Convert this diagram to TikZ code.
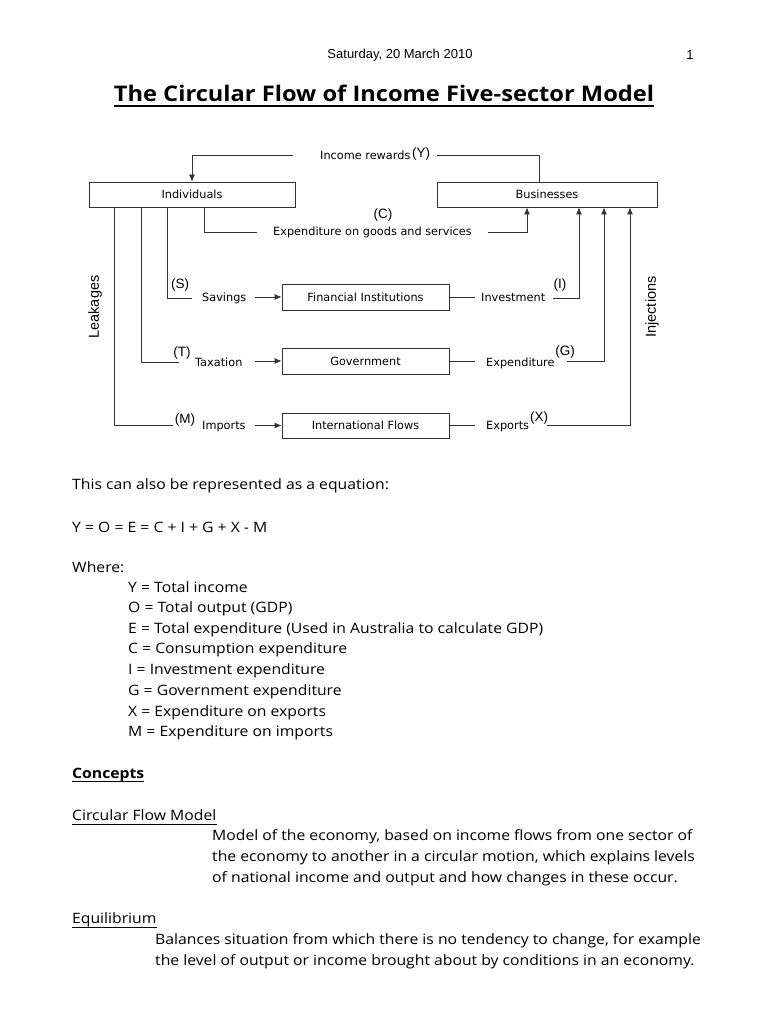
\documentclass[tikz,border=0pt]{standalone}
\usepackage{fontspec}
\setmainfont{Open Sans}[FakeStretch=1.1]
\newfontfamily\diagfont{DejaVu Sans}
\newfontfamily\arialfont{Liberation Sans}
\usetikzlibrary{arrows.meta,calc}
\begin{document}
\begin{tikzpicture}[x=1pt,y=-1pt,
  box/.style={draw=black!80, line width=0.8pt, minimum height=25pt, inner sep=0pt, font=\diagfont\fontsize{11.3}{13}\selectfont},
  dl/.style={inner sep=0pt, anchor=base west, font=\diagfont\fontsize{11.3}{13}\selectfont},
  pl/.style={inner sep=0pt, font=\arialfont\fontsize{13.5}{15}\selectfont},
  conn/.style={draw=black!80, line width=0.8pt},
  arr/.style={conn, -{Latex[length=7pt,width=6pt]}},
  body/.style={anchor=base west, inner sep=0pt, font=\fontsize{14.3}{17}\selectfont},
  uline/.style={line width=0.8pt}
]
\useasboundingbox (0,0) rectangle (768,1024);
\fill[white] (0,0) rectangle (768,1024);

% header
\node[inner sep=0pt, font=\arialfont\fontsize{13}{15}\selectfont] (date) at (400,55) {Saturday, 20 March 2010};
\node[inner sep=0pt, font=\arialfont\fontsize{13}{15}\selectfont] (page) at (690,55) {1};
\node[anchor=base, inner sep=0pt, font=\bfseries\fontsize{21.5}{25}\selectfont] (title) at (384,102) {The Circular Flow of Income Five-sector Model};
\draw[line width=1.4pt] ($(title.base west)+(0,4)$) -- ($(title.base east)+(0,4)$);

% diagram boxes
\node[box, minimum width=206pt] (ind) at (192,194.5) {Individuals};
\node[box, minimum width=220pt] (bus) at (547,194.5) {Businesses};
\node[box, minimum width=167pt, minimum height=26pt] (fin) at (365.5,297) {Financial Institutions};
\node[box, minimum width=167pt, minimum height=26pt] (gov) at (365.5,361) {Government};
\node[box, minimum width=167pt, minimum height=25pt] (intl) at (365.5,425.5) {International Flows};

% labels
\node[dl] (inc) at (320,160) {Income rewards};
\node[pl, anchor=base west] (Y) at (412,157.5) {(Y)};
\node[pl] (C) at (383,215) {(C)};
\node[dl] (exp) at (273,236) {Expenditure on goods and services};
\node[dl] (sav) at (202,301.5) {Savings};
\node[dl] (tax) at (195,366) {Taxation};
\node[dl] (imp) at (202,429.5) {Imports};
\node[dl] (inv) at (481,301.5) {Investment};
\node[dl] (gexp) at (486,366) {Expenditure};
\node[dl] (expo) at (486,429.5) {Exports};
\node[pl] (S) at (180,285) {(S)};
\node[pl] (T) at (182,353) {(T)};
\node[pl] (M) at (185,420) {(M)};
\node[pl] (I) at (560,285) {(I)};
\node[pl] (G) at (565,352) {(G)};
\node[pl] (X) at (539,418) {(X)};
\node[pl, rotate=90, font=\arialfont\fontsize{14.5}{16}\selectfont] (leak) at (95,307) {Leakages};
\node[pl, rotate=90, font=\arialfont\fontsize{14.5}{16}\selectfont] (inj) at (652,307) {Injections};

% coordinates
\coordinate (yL) at (293,155);
\coordinate (yR) at (437,155);
\coordinate (xY) at (539,0);
\coordinate (cL) at (257,232);
\coordinate (cR) at (488,232);
\coordinate (xC1) at (204,0);
\coordinate (xC2) at (527,0);
\coordinate (xS) at (167,0);
\coordinate (xT) at (141,0);
\coordinate (xM) at (114,0);
\coordinate (xI) at (579,0);
\coordinate (xG) at (604,0);
\coordinate (xX) at (630,0);
\coordinate (sL) at (192,298);
\coordinate (tL) at (179,362);
\coordinate (mL) at (173,425);
\coordinate (sA) at (255,297);
\coordinate (tA) at (255,361);
\coordinate (mA) at (255,425.5);
\coordinate (iL) at (475,297);
\coordinate (gL) at (475,361);
\coordinate (eL) at (475,425.5);
\coordinate (iR) at (553,298);
\coordinate (gR) at (567,361);
\coordinate (eR) at (547,425);

% connectors
\draw[arr] (yL) -| (ind.north);
\draw[conn] (yR) -| (bus.north -| xY);
\draw[conn] (ind.south -| xC1) |- (cL);
\draw[arr] (cR) -| (bus.south -| xC2);
\draw[conn] (ind.south -| xS) |- (sL);
\draw[conn] (ind.south -| xT) |- (tL);
\draw[conn] (ind.south -| xM) |- (mL);
\draw[arr] (sA) -- (fin.west);
\draw[arr] (tA) -- (gov.west);
\draw[arr] (mA) -- (intl.west);
\draw[conn] (fin.east) -- (iL);
\draw[conn] (gov.east) -- (gL);
\draw[conn] (intl.east) -- (eL);
\draw[arr] (iR) -| (bus.south -| xI);
\draw[arr] (gR) -| (bus.south -| xG);
\draw[arr] (eR) -| (bus.south -| xX);

% body text
\node[body] (t1) at (72,489) {This can also be represented as a equation:};
\node[body] (eq) at (72,532) {Y = O = E = C + I + G + X - M};
\node[body] (wh) at (72,572) {Where:};
\node[body] (l1) at (128,592) {Y = Total income};
\node[body] (l2) at (128,612) {O = Total output (GDP)};
\node[body] (l3) at (128,633) {E = Total expenditure (Used in Australia to calculate GDP)};
\node[body] (l4) at (128,653) {C = Consumption expenditure};
\node[body] (l5) at (128,674) {I = Investment expenditure};
\node[body] (l6) at (128,695) {G = Government expenditure};
\node[body] (l7) at (128,716) {X = Expenditure on exports};
\node[body] (l8) at (128,736) {M = Expenditure on imports};

\node[body, font=\bfseries\fontsize{14.3}{17}\selectfont] (conc) at (72,778) {Concepts};
\draw[uline] ($(conc.base west)+(0,3)$) -- ($(conc.base east)+(0,3)$);
\node[body] (cfm) at (72,820) {Circular Flow Model};
\draw[uline] ($(cfm.base west)+(0,4)$) -- ($(cfm.base east)+(0,4)$);
\node[body] (p1) at (212,840) {Model of the economy, based on income flows from one sector of};
\node[body] (p2) at (212,861) {the economy to another in a circular motion, which explains levels};
\node[body] (p3) at (212,882) {of national income and output and how changes in these occur.};
\node[body] (equ) at (72,923) {Equilibrium};
\draw[uline] ($(equ.base west)+(0,4)$) -- ($(equ.base east)+(0,4)$);
\node[body] (q1) at (155,944) {Balances situation from which there is no tendency to change, for example};
\node[body] (q2) at (155,965) {the level of output or income brought about by conditions in an economy.};
\end{tikzpicture}
\end{document}
